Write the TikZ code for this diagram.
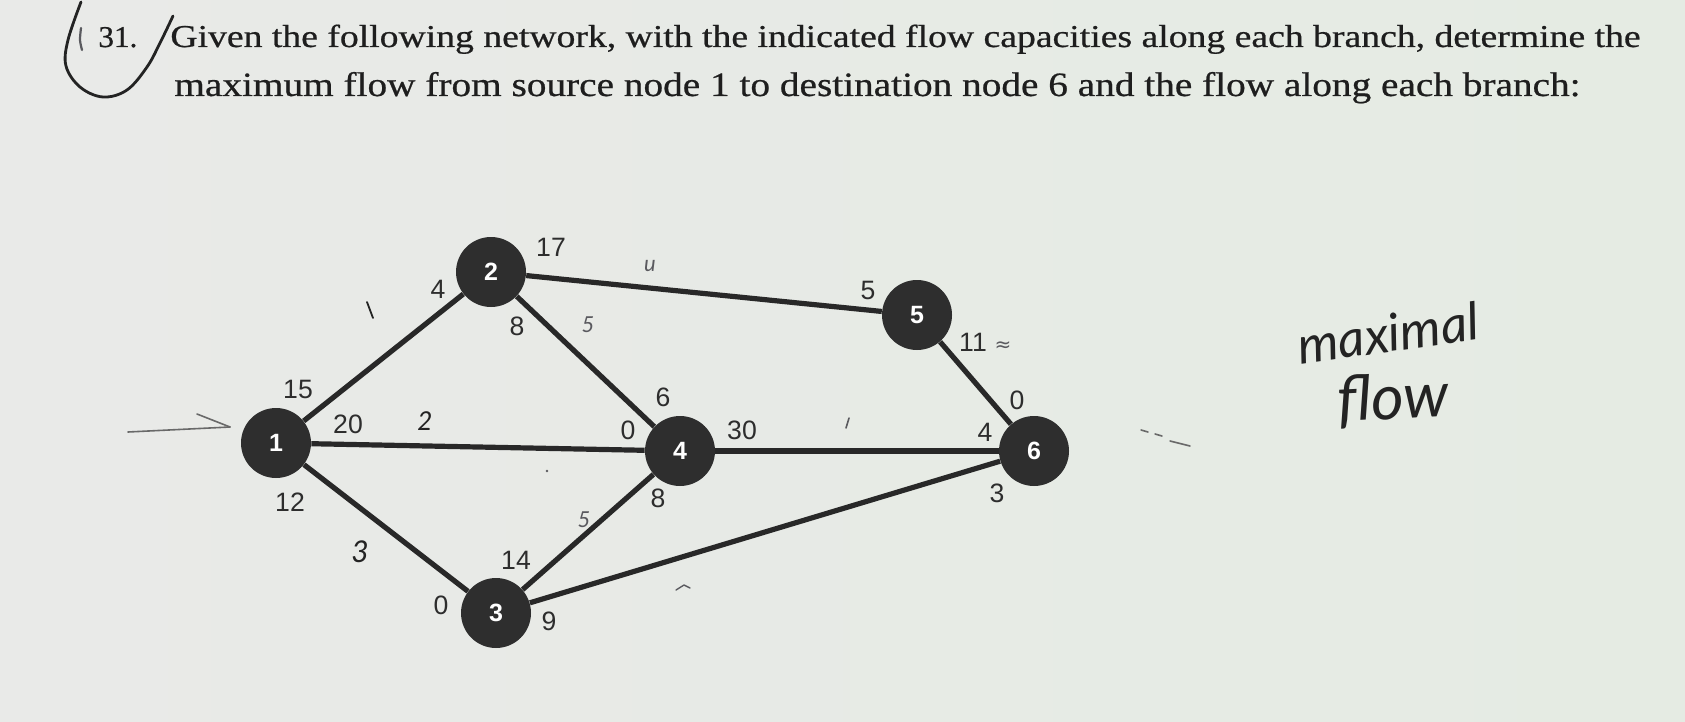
\documentclass[tikz,border=0pt]{standalone}
\usepackage{fontspec}
\usepackage{graphicx}
\setmainfont{Liberation Serif}
\newfontfamily\titlefont{Liberation Serif}[FakeBold=0.6]
\newfontfamily\labfont{Liberation Sans}
\newfontfamily\handfont{Lato}
\newfontfamily\dvsfont{DejaVu Sans}
\definecolor{bgL}{RGB}{233,234,232}
\definecolor{bgR}{RGB}{229,235,227}
\definecolor{nodefill}{RGB}{46,46,46}
\definecolor{ink}{RGB}{40,40,40}
\definecolor{labcol}{RGB}{45,45,45}
\definecolor{titlecol}{RGB}{30,30,30}
\definecolor{handcol}{RGB}{35,35,35}
\definecolor{pencilcol}{RGB}{105,105,105}
\definecolor{faintcol}{RGB}{90,90,95}
\begin{document}
\begin{tikzpicture}[x=0.5pt,y=-0.5pt,
  vert/.style={circle,fill=nodefill,minimum size=35pt,inner sep=0pt,text=white,
    font=\labfont\bfseries\fontsize{12.5}{14}\selectfont},
  edge/.style={draw=ink,line width=2.6pt},
  caplab/.style={font=\labfont\fontsize{13.3}{15}\selectfont,text=labcol,inner sep=0pt},
  hw/.style={font=\handfont\itshape\fontsize{13}{15}\selectfont,text=handcol,inner sep=0pt},
  faint/.style={font=\handfont\itshape\fontsize{11}{13}\selectfont,text=faintcol,inner sep=0pt},
  pencil/.style={draw=pencilcol,line width=0.8pt,line cap=round,line join=round},
  penink/.style={draw=handcol,line width=1.1pt,line cap=round,line join=round},
  titletext/.style={anchor=base west,inner sep=0pt,text=titlecol,font=\titlefont}
]
\shade[left color=bgL,right color=bgR] (0,0) rectangle (1685,722);
\useasboundingbox (0,0) rectangle (1685,722);

% title
\node[titletext] (num) at (98,47) {\resizebox{19.5pt}{10pt}{31.}};
\node[titletext] (line1) at (170,47) {\resizebox{735pt}{11.2pt}{Given the following network, with the indicated flow capacities along each branch, determine the}};
\node[titletext] (line2) at (174,96) {\resizebox{703pt}{12pt}{maximum flow from source node 1 to destination node 6 and the flow along each branch:}};

% handwritten loop around the number
\draw[penink,line width=1.4pt] plot[smooth,tension=0.6] coordinates {(81,2) (68,40) (66,66) (80,87) (103,97) (127,90) (147,67) (160,43) (173,16)};
\draw[penink,line width=1.1pt,draw=faintcol] plot[smooth] coordinates {(81,28) (80,40) (82,50)};

% nodes
\node[vert] (n1) at (276,443) {1};
\node[vert] (n2) at (491,272) {2};
\node[vert] (n3) at (496,613) {3};
\node[vert] (n4) at (680,451) {4};
\node[vert] (n5) at (917,315) {5};
\node[vert] (n6) at (1034,451) {6};

% edges
\draw[edge] (n1) -- (n2);
\draw[edge] (n1) -- (n4);
\draw[edge] (n1) -- (n3);
\draw[edge] (n2) -- (n5);
\draw[edge] (n2) -- (n4);
\draw[edge] (n3) -- (n4);
\draw[edge] (n3) -- (n6);
\draw[edge] (n4) -- (n6);
\draw[edge] (n5) -- (n6);

% capacities
\node[caplab] (c12a) at (298,389) {15};
\node[caplab] (c14a) at (348,424) {20};
\node[caplab] (c13a) at (290,502) {12};
\node[caplab] (c12b) at (438,289) {4};
\node[caplab] (c25a) at (551,247) {17};
\node[caplab] (c24a) at (517,326) {8};
\node[caplab] (c24b) at (663,397) {6};
\node[caplab] (c14b) at (628,430) {0};
\node[caplab] (c46a) at (742,430) {30};
\node[caplab] (c34b) at (658,498) {8};
\node[caplab] (c25b) at (868,290) {5};
\node[caplab] (c56a) at (973,342) {11};
\node[caplab] (c56b) at (1017,400) {0};
\node[caplab] (c46b) at (985,432) {4};
\node[caplab] (c36b) at (997,493) {3};
\node[caplab] (c34a) at (516,560) {14};
\node[caplab] (c13b) at (441,605) {0};
\node[caplab] (c36a) at (549,621) {9};

% handwritten marks
\coordinate (aS) at (128,432);
\coordinate (aE) at (230,427);
\coordinate (aH) at (197,414);
\draw[pencil] (aS) -- (aE);
\draw[pencil] (aH) -- (aE);
\draw[penink,line width=0.9pt] (367,302) -- (373,318);
\node[hw] (h2) at (425,421) {2};
\node[hw,font=\handfont\itshape\fontsize{15}{17}\selectfont] (h3) at (360,552) {3};
\node[faint] (h4) at (650,266) {u};
\node[faint] (h5a) at (588,325) {5};
\node[faint] (h5b) at (584,520) {5};
\node[faint,font=\dvsfont\fontsize{10}{12}\selectfont] (h6) at (1003,347) {≈};
\draw[penink,line width=0.8pt,draw=faintcol] (849,418) -- (846,428);
\draw[penink,line width=0.7pt,draw=faintcol] (676,590) -- (684,585) -- (690,588);
\fill[faintcol] (547,471) circle (1.3);
\draw[pencil] (1141,430) -- (1148,432);
\draw[pencil] (1155,434) -- (1162,436);
\draw[pencil] (1170,441) -- (1190,446);

% maximal flow
\node[hw,rotate=8] (hmax) at (1388,333) {\resizebox{91pt}{!}{maximal}};
\node[hw,rotate=3] (hflow) at (1393,400) {\resizebox{56pt}{!}{flow}};
\end{tikzpicture}
\end{document}
